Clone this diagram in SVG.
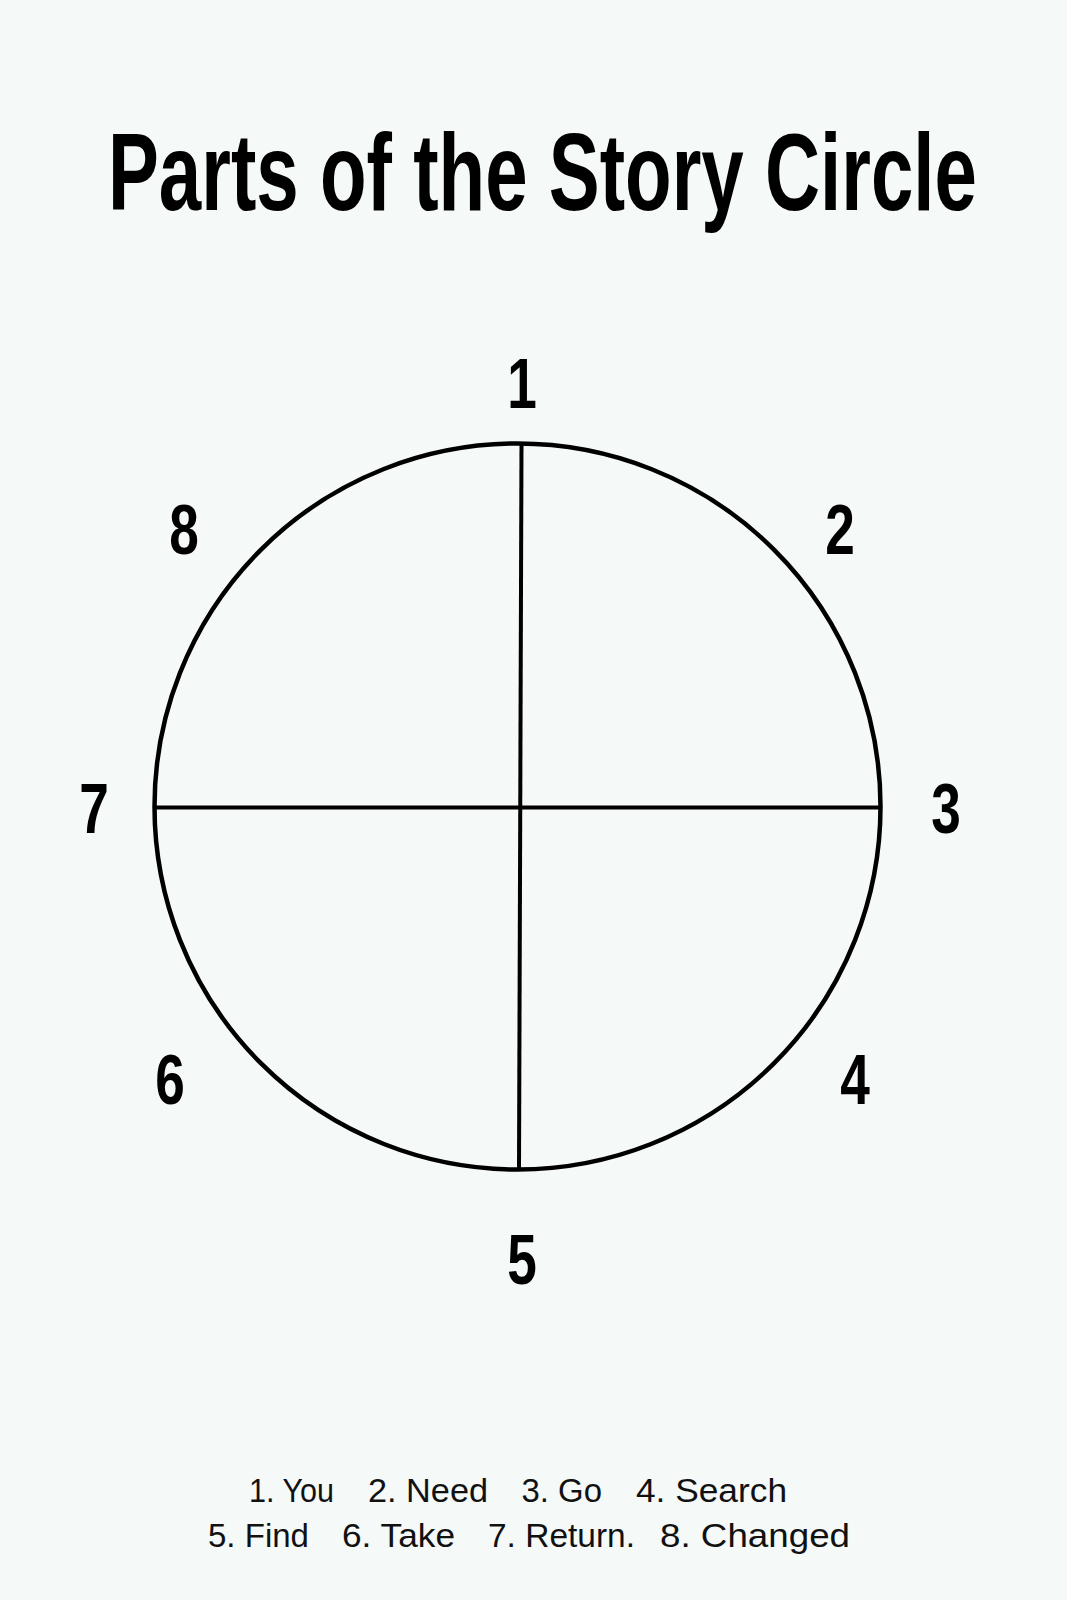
<svg xmlns="http://www.w3.org/2000/svg" width="1067" height="1600" viewBox="0 0 1067 1600">
  <style>
    .bg { fill: #f5f9f8; }
    .title { font-family: "Liberation Sans", Arial, sans-serif; font-weight: bold; font-size: 110px; fill: #000; }
    .num { font-family: "Liberation Sans", Arial, sans-serif; font-weight: bold; font-size: 70px; fill: #000; text-anchor: middle; }
    .legend { font-family: "Liberation Sans", Arial, sans-serif; font-size: 33px; fill: #111; }
    .ring { fill: none; stroke: #000; stroke-width: 4.5; }
    .axis { stroke: #000; stroke-width: 4; stroke-linecap: butt; }
  </style>
  <rect class="bg" x="0" y="0" width="1067" height="1600"/>

  <g id="title" transform="translate(108,210) scale(0.6935,1)">
    <text class="title" x="0" y="0">Parts of the Story Circle</text>
  </g>

  <g id="circle">
    <circle class="ring" cx="517.5" cy="806.5" r="363"/>
  </g>

  <g id="connectors">
    <line class="axis" x1="521.5" y1="443" x2="519" y2="1169"/>
    <line class="axis" x1="155" y1="807.5" x2="880" y2="807.5"/>
  </g>

  <g id="label-1" transform="translate(522,408) scale(0.76,1)"><text class="num" x="0" y="0">1</text></g>
  <g id="label-2" transform="translate(840,554) scale(0.76,1)"><text class="num" x="0" y="0">2</text></g>
  <g id="label-3" transform="translate(946,833) scale(0.76,1)"><text class="num" x="0" y="0">3</text></g>
  <g id="label-4" transform="translate(855,1104) scale(0.76,1)"><text class="num" x="0" y="0">4</text></g>
  <g id="label-5" transform="translate(522,1284) scale(0.76,1)"><text class="num" x="0" y="0">5</text></g>
  <g id="label-6" transform="translate(170,1104) scale(0.76,1)"><text class="num" x="0" y="0">6</text></g>
  <g id="label-7" transform="translate(94,833) scale(0.76,1)"><text class="num" x="0" y="0">7</text></g>
  <g id="label-8" transform="translate(184,554) scale(0.76,1)"><text class="num" x="0" y="0">8</text></g>

  <g id="legend">
    <text class="legend" x="249" y="1502" textLength="85" lengthAdjust="spacingAndGlyphs">1. You</text>
    <text class="legend" x="368" y="1502" textLength="120" lengthAdjust="spacingAndGlyphs">2. Need</text>
    <text class="legend" x="521.5" y="1502" textLength="80.5" lengthAdjust="spacingAndGlyphs">3. Go</text>
    <text class="legend" x="636" y="1502" textLength="151" lengthAdjust="spacingAndGlyphs">4. Search</text>
    <text class="legend" x="208" y="1547" textLength="101" lengthAdjust="spacingAndGlyphs">5. Find</text>
    <text class="legend" x="342" y="1547" textLength="113" lengthAdjust="spacingAndGlyphs">6. Take</text>
    <text class="legend" x="488" y="1547" textLength="147" lengthAdjust="spacingAndGlyphs">7. Return.</text>
    <text class="legend" x="660" y="1547" textLength="190" lengthAdjust="spacingAndGlyphs">8. Changed</text>
  </g>
</svg>
